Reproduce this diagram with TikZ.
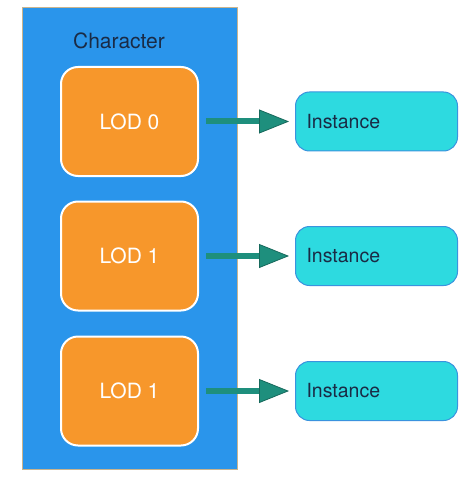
\documentclass[tikz,border=0pt]{standalone}
\usepackage{fontspec}
\setmainfont{TeX Gyre Heros}
\usepackage{tikz}
\usepackage{xcolor}
\usetikzlibrary{positioning,arrows.meta}
\definecolor{charblue}{HTML}{2A95EB}
\definecolor{charedge}{HTML}{C9B48E}
\definecolor{lodorange}{HTML}{F7972B}
\definecolor{instcyan}{HTML}{2DDAE0}
\definecolor{instedge}{HTML}{3A93DE}
\definecolor{arrowfill}{HTML}{1E8F7D}
\definecolor{arrowline}{HTML}{17695C}
\definecolor{darktext}{HTML}{1A2B45}
\tikzset{
    char-box/.style = {draw=charedge, fill=charblue, line width=0.8pt, rectangle, minimum width=215pt, minimum height=462pt, inner sep=0pt},
    char-title/.style = {text=darktext, font=\fontsize{21}{24}\selectfont},
    lod-box/.style = {draw=white, fill=lodorange, line width=2pt, rectangle, rounded corners=17pt, minimum width=137pt, minimum height=109pt, text=white, font=\fontsize{21}{24}\selectfont},
    inst-box/.style = {draw=instedge, fill=instcyan, line width=1pt, rectangle, rounded corners=14pt, minimum height=59pt, text width=140pt, inner xsep=11pt, align=left, text=darktext, font=\fontsize{19.5}{22}\selectfont},
    link/.style = {draw=arrowfill, line width=6pt, shorten <=7pt, shorten >=6pt, -{Triangle[width=24pt, length=30pt, color=arrowline, fill=arrowfill, line width=0.8pt]}},
}

\begin{document}
\begin{tikzpicture}[x=1pt, y=-1pt]
\useasboundingbox (0,0) rectangle (474,481);
\node [char-box, anchor=north west] (char) at (22,7) {};
\node [char-title] (title) at (119,41) {Character};
% level of detail boxes
\node [lod-box] (lod0) at (129.5,121.5) {LOD 0};
\node [lod-box] (lod1) at (129.5,256) {LOD 1};
\node [lod-box] (lod2) at (129.5,391) {LOD 1};
% instances
\node [inst-box, right=96pt of lod0] (inst0) {Instance};
\node [inst-box, right=96pt of lod1] (inst1) {Instance};
\node [inst-box, right=96pt of lod2] (inst2) {Instance};
\draw [link] (lod0) -- (inst0);
\draw [link] (lod1) -- (inst1);
\draw [link] (lod2) -- (inst2);
\end{tikzpicture}
\end{document}
